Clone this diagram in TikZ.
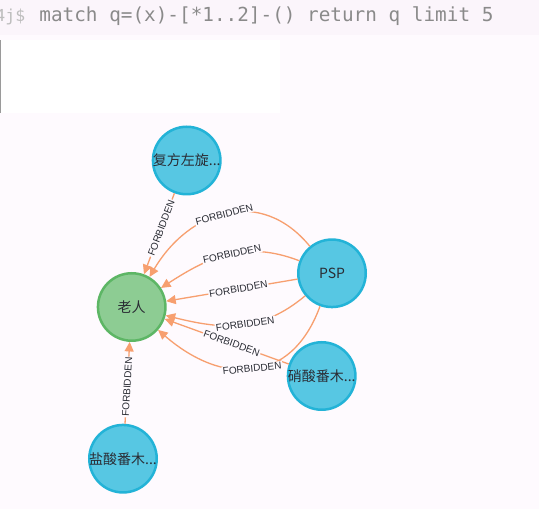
\documentclass[tikz,border=0pt]{standalone}
\usepackage{fontspec}
\setmainfont{Liberation Sans}
\newfontfamily\cjk{Noto Sans CJK SC}
\newfontfamily\monof{DejaVu Sans Mono}
\usetikzlibrary{arrows.meta}
\definecolor{bg}{HTML}{FEFAFE}
\definecolor{hdr}{HTML}{FBF5FB}
\definecolor{cmdc}{HTML}{8A8A8A}
\definecolor{promptc}{HTML}{BDBDBD}
\definecolor{edgeline}{HTML}{9A9A9A}
\definecolor{bluefill}{HTML}{57C7E3}
\definecolor{blueline}{HTML}{23B3D7}
\definecolor{greenfill}{HTML}{8DCC93}
\definecolor{greenline}{HTML}{5DB665}
\definecolor{relc}{HTML}{F79F6F}
\definecolor{txt}{HTML}{2A2C34}
\begin{document}
\begin{tikzpicture}[x=1pt,y=1pt,
  gnode/.style={circle, minimum size=67.5pt, inner sep=0pt, line width=2.5pt,
    font=\cjk\fontsize{14}{16}\selectfont, text=txt},
  nblue/.style={fill=bluefill, draw=blueline},
  ngreen/.style={fill=greenfill, draw=greenline},
  rel/.style={draw=relc, line width=1.3pt, -{Triangle[length=9.5pt,width=9pt]}},
  lbl/.style={sloped, fill=bg, inner sep=1pt, font=\fontsize{10}{11}\selectfont, text=txt}
]
\useasboundingbox (0,0) rectangle (539,509);
\fill[bg] (0,0) rectangle (539,509);
\fill[hdr] (0,474) rectangle (539,509);
\fill[white] (0,396) rectangle (280,469);
\draw[edgeline, line width=1pt] (0.5,396) -- (0.5,469);

\node[anchor=base east, inner sep=0pt, font=\monof\fontsize{16.5}{18}\selectfont, text=promptc] (prompt) at (25.5,487) {4j\$};
\node[anchor=base west, inner sep=0pt, font=\monof\fontsize{19.34}{21}\selectfont, text=cmdc] (cmd) at (39.2,487) {match q=(x)-[*1..2]-() return q limit 5};

\node[gnode, nblue] (fufang) at (186.7,348.5) {\makebox[0pt]{复方左旋...}};
\node[gnode, ngreen] (old) at (131.7,202) {老人};
\node[gnode, nblue] (psp) at (332,235.7) {PSP};
\node[gnode, nblue] (xiao) at (321.7,133) {\makebox[0pt]{硝酸番木...}};
\node[gnode, nblue] (yan) at (123,50.3) {\makebox[0pt]{盐酸番木...}};

\draw[rel] (fufang) -- node[lbl, pos=0.43]{FORBIDDEN} (old);
\draw[rel] (yan) -- node[lbl, pos=0.45]{FORBIDDEN} (old);
\draw[rel] (psp) to[out=129.5,in=59.5,looseness=1.22] node[lbl, pos=0.51]{FORBIDDEN} (old);
\draw[rel] (psp) to[out=159,in=33,looseness=1.05] node[lbl, pos=0.47]{FORBIDDEN} (old);
\draw[rel] (psp) -- node[lbl, pos=0.45]{FORBIDDEN} (old);
\draw[rel] (xiao) -- node[lbl, pos=0.46]{FORBIDDEN} (old);
\draw[rel] (psp) to[out=220,in=-14,looseness=1.05] node[lbl, pos=0.46]{FORBIDDEN} (old);
\draw[rel] (psp) to[out=250,in=-41,looseness=1.32] node[lbl, pos=0.5]{FORBIDDEN} (old);
\end{tikzpicture}
\end{document}
